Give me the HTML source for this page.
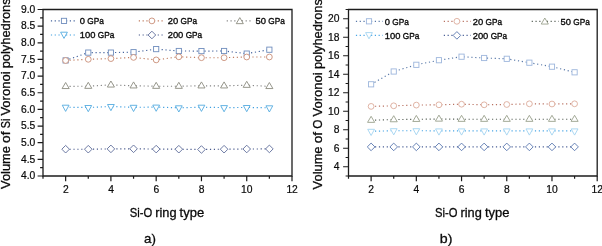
<!DOCTYPE html>
<html lang="en"><head><meta charset="utf-8"><title>Voronoi volume vs Si-O ring type</title>
<style>html,body{margin:0;padding:0;background:#fff}svg{display:block}</style></head>
<body>
<svg width="602" height="246" viewBox="0 0 602 246" font-family='&quot;Liberation Sans&quot;, Arial, sans-serif' fill="#0a0a0a">
<rect width="602" height="246" fill="#fff"/>
<polyline points="65.64,60.4 88.27,52.6 110.91,52.6 133.55,52.2 156.18,49.1 178.82,51 201.45,51.1 224.09,51 246.73,53.6 269.36,49.7" fill="none" stroke="#46659e" stroke-width="1.15" stroke-dasharray="1.2 2.7"/>
<rect x="63.04" y="57.8" width="5.2" height="5.2" fill="#fff" stroke="#6f8dbd" stroke-width="0.9"/>
<rect x="85.67" y="50" width="5.2" height="5.2" fill="#fff" stroke="#6f8dbd" stroke-width="0.9"/>
<rect x="108.31" y="50" width="5.2" height="5.2" fill="#fff" stroke="#6f8dbd" stroke-width="0.9"/>
<rect x="130.95" y="49.6" width="5.2" height="5.2" fill="#fff" stroke="#6f8dbd" stroke-width="0.9"/>
<rect x="153.58" y="46.5" width="5.2" height="5.2" fill="#fff" stroke="#6f8dbd" stroke-width="0.9"/>
<rect x="176.22" y="48.4" width="5.2" height="5.2" fill="#fff" stroke="#6f8dbd" stroke-width="0.9"/>
<rect x="198.85" y="48.5" width="5.2" height="5.2" fill="#fff" stroke="#6f8dbd" stroke-width="0.9"/>
<rect x="221.49" y="48.4" width="5.2" height="5.2" fill="#fff" stroke="#6f8dbd" stroke-width="0.9"/>
<rect x="244.13" y="51" width="5.2" height="5.2" fill="#fff" stroke="#6f8dbd" stroke-width="0.9"/>
<rect x="266.76" y="47.1" width="5.2" height="5.2" fill="#fff" stroke="#6f8dbd" stroke-width="0.9"/>
<polyline points="65.64,60.5 88.27,59.3 110.91,58.6 133.55,57.4 156.18,59.9 178.82,56.8 201.45,57.7 224.09,57.7 246.73,57 269.36,57" fill="none" stroke="#bf7b5e" stroke-width="1.15" stroke-dasharray="1.2 2.7"/>
<circle cx="65.64" cy="60.5" r="2.9" fill="#fff" stroke="#c98f78" stroke-width="0.9"/>
<circle cx="88.27" cy="59.3" r="2.9" fill="#fff" stroke="#c98f78" stroke-width="0.9"/>
<circle cx="110.91" cy="58.6" r="2.9" fill="#fff" stroke="#c98f78" stroke-width="0.9"/>
<circle cx="133.55" cy="57.4" r="2.9" fill="#fff" stroke="#c98f78" stroke-width="0.9"/>
<circle cx="156.18" cy="59.9" r="2.9" fill="#fff" stroke="#c98f78" stroke-width="0.9"/>
<circle cx="178.82" cy="56.8" r="2.9" fill="#fff" stroke="#c98f78" stroke-width="0.9"/>
<circle cx="201.45" cy="57.7" r="2.9" fill="#fff" stroke="#c98f78" stroke-width="0.9"/>
<circle cx="224.09" cy="57.7" r="2.9" fill="#fff" stroke="#c98f78" stroke-width="0.9"/>
<circle cx="246.73" cy="57" r="2.9" fill="#fff" stroke="#c98f78" stroke-width="0.9"/>
<circle cx="269.36" cy="57" r="2.9" fill="#fff" stroke="#c98f78" stroke-width="0.9"/>
<polyline points="65.64,86.4 88.27,86.2 110.91,84.9 133.55,85.8 156.18,86.2 178.82,86.2 201.45,85.8 224.09,85.8 246.73,85.2 269.36,86.4" fill="none" stroke="#858585" stroke-width="1.15" stroke-dasharray="1.2 2.7"/>
<path d="M65.64 82.5L69.19 88.55L62.09 88.55Z" fill="#fff" stroke="#8c8c80" stroke-width="0.9"/>
<path d="M88.27 82.3L91.82 88.35L84.72 88.35Z" fill="#fff" stroke="#8c8c80" stroke-width="0.9"/>
<path d="M110.91 81L114.46 87.05L107.36 87.05Z" fill="#fff" stroke="#8c8c80" stroke-width="0.9"/>
<path d="M133.55 81.9L137.1 87.95L130 87.95Z" fill="#fff" stroke="#8c8c80" stroke-width="0.9"/>
<path d="M156.18 82.3L159.73 88.35L152.63 88.35Z" fill="#fff" stroke="#8c8c80" stroke-width="0.9"/>
<path d="M178.82 82.3L182.37 88.35L175.27 88.35Z" fill="#fff" stroke="#8c8c80" stroke-width="0.9"/>
<path d="M201.45 81.9L205 87.95L197.9 87.95Z" fill="#fff" stroke="#8c8c80" stroke-width="0.9"/>
<path d="M224.09 81.9L227.64 87.95L220.54 87.95Z" fill="#fff" stroke="#8c8c80" stroke-width="0.9"/>
<path d="M246.73 81.3L250.28 87.35L243.18 87.35Z" fill="#fff" stroke="#8c8c80" stroke-width="0.9"/>
<path d="M269.36 82.5L272.91 88.55L265.81 88.55Z" fill="#fff" stroke="#8c8c80" stroke-width="0.9"/>
<polyline points="65.64,107.2 88.27,107.5 110.91,106.5 133.55,107.3 156.18,107.1 178.82,107.8 201.45,107.2 224.09,107.6 246.73,107.5 269.36,107.8" fill="none" stroke="#3f9fe0" stroke-width="1.15" stroke-dasharray="1.2 2.7"/>
<path d="M62.24 105.2L69.04 105.2L65.64 111.4Z" fill="#fff" stroke="#55abe0" stroke-width="0.9"/>
<path d="M84.87 105.5L91.67 105.5L88.27 111.7Z" fill="#fff" stroke="#55abe0" stroke-width="0.9"/>
<path d="M107.51 104.5L114.31 104.5L110.91 110.7Z" fill="#fff" stroke="#55abe0" stroke-width="0.9"/>
<path d="M130.15 105.3L136.95 105.3L133.55 111.5Z" fill="#fff" stroke="#55abe0" stroke-width="0.9"/>
<path d="M152.78 105.1L159.58 105.1L156.18 111.3Z" fill="#fff" stroke="#55abe0" stroke-width="0.9"/>
<path d="M175.42 105.8L182.22 105.8L178.82 112Z" fill="#fff" stroke="#55abe0" stroke-width="0.9"/>
<path d="M198.05 105.2L204.85 105.2L201.45 111.4Z" fill="#fff" stroke="#55abe0" stroke-width="0.9"/>
<path d="M220.69 105.6L227.49 105.6L224.09 111.8Z" fill="#fff" stroke="#55abe0" stroke-width="0.9"/>
<path d="M243.33 105.5L250.13 105.5L246.73 111.7Z" fill="#fff" stroke="#55abe0" stroke-width="0.9"/>
<path d="M265.96 105.8L272.76 105.8L269.36 112Z" fill="#fff" stroke="#55abe0" stroke-width="0.9"/>
<polyline points="65.64,149.2 88.27,149.2 110.91,148.9 133.55,148.8 156.18,149.1 178.82,149.2 201.45,149.5 224.09,149.2 246.73,149 269.36,148.9" fill="none" stroke="#4a5a8c" stroke-width="1.15" stroke-dasharray="1.2 2.7"/>
<path d="M65.64 145.4L69.44 149.2L65.64 153L61.84 149.2Z" fill="#fff" stroke="#5d6c9a" stroke-width="0.9"/>
<path d="M88.27 145.4L92.07 149.2L88.27 153L84.47 149.2Z" fill="#fff" stroke="#5d6c9a" stroke-width="0.9"/>
<path d="M110.91 145.1L114.71 148.9L110.91 152.7L107.11 148.9Z" fill="#fff" stroke="#5d6c9a" stroke-width="0.9"/>
<path d="M133.55 145L137.35 148.8L133.55 152.6L129.75 148.8Z" fill="#fff" stroke="#5d6c9a" stroke-width="0.9"/>
<path d="M156.18 145.3L159.98 149.1L156.18 152.9L152.38 149.1Z" fill="#fff" stroke="#5d6c9a" stroke-width="0.9"/>
<path d="M178.82 145.4L182.62 149.2L178.82 153L175.02 149.2Z" fill="#fff" stroke="#5d6c9a" stroke-width="0.9"/>
<path d="M201.45 145.7L205.25 149.5L201.45 153.3L197.65 149.5Z" fill="#fff" stroke="#5d6c9a" stroke-width="0.9"/>
<path d="M224.09 145.4L227.89 149.2L224.09 153L220.29 149.2Z" fill="#fff" stroke="#5d6c9a" stroke-width="0.9"/>
<path d="M246.73 145.2L250.53 149L246.73 152.8L242.93 149Z" fill="#fff" stroke="#5d6c9a" stroke-width="0.9"/>
<path d="M269.36 145.1L273.16 148.9L269.36 152.7L265.56 148.9Z" fill="#fff" stroke="#5d6c9a" stroke-width="0.9"/>
<path d="M43 9.5H292V176H43Z" fill="none" stroke="#1c1c1c" stroke-width="1.3"/>
<text x="35.3" y="179.3" font-size="10" text-anchor="end" textLength="14.31" lengthAdjust="spacingAndGlyphs" stroke="#0a0a0a" stroke-width="0.2">4.0</text>
<text x="35.3" y="162.65" font-size="10" text-anchor="end" textLength="14.31" lengthAdjust="spacingAndGlyphs" stroke="#0a0a0a" stroke-width="0.2">4.5</text>
<text x="35.3" y="146" font-size="10" text-anchor="end" textLength="14.31" lengthAdjust="spacingAndGlyphs" stroke="#0a0a0a" stroke-width="0.2">5.0</text>
<text x="35.3" y="129.35" font-size="10" text-anchor="end" textLength="14.31" lengthAdjust="spacingAndGlyphs" stroke="#0a0a0a" stroke-width="0.2">5.5</text>
<text x="35.3" y="112.7" font-size="10" text-anchor="end" textLength="14.31" lengthAdjust="spacingAndGlyphs" stroke="#0a0a0a" stroke-width="0.2">6.0</text>
<text x="35.3" y="96.05" font-size="10" text-anchor="end" textLength="14.31" lengthAdjust="spacingAndGlyphs" stroke="#0a0a0a" stroke-width="0.2">6.5</text>
<text x="35.3" y="79.4" font-size="10" text-anchor="end" textLength="14.31" lengthAdjust="spacingAndGlyphs" stroke="#0a0a0a" stroke-width="0.2">7.0</text>
<text x="35.3" y="62.75" font-size="10" text-anchor="end" textLength="14.31" lengthAdjust="spacingAndGlyphs" stroke="#0a0a0a" stroke-width="0.2">7.5</text>
<text x="35.3" y="46.1" font-size="10" text-anchor="end" textLength="14.31" lengthAdjust="spacingAndGlyphs" stroke="#0a0a0a" stroke-width="0.2">8.0</text>
<text x="35.3" y="29.45" font-size="10" text-anchor="end" textLength="14.31" lengthAdjust="spacingAndGlyphs" stroke="#0a0a0a" stroke-width="0.2">8.5</text>
<text x="35.3" y="12.8" font-size="10" text-anchor="end" textLength="14.31" lengthAdjust="spacingAndGlyphs" stroke="#0a0a0a" stroke-width="0.2">9.0</text>
<text x="65.74" y="193" font-size="10" text-anchor="middle" textLength="5.73" lengthAdjust="spacingAndGlyphs" stroke="#0a0a0a" stroke-width="0.2">2</text>
<text x="111.01" y="193" font-size="10" text-anchor="middle" textLength="5.73" lengthAdjust="spacingAndGlyphs" stroke="#0a0a0a" stroke-width="0.2">4</text>
<text x="156.28" y="193" font-size="10" text-anchor="middle" textLength="5.73" lengthAdjust="spacingAndGlyphs" stroke="#0a0a0a" stroke-width="0.2">6</text>
<text x="201.55" y="193" font-size="10" text-anchor="middle" textLength="5.73" lengthAdjust="spacingAndGlyphs" stroke="#0a0a0a" stroke-width="0.2">8</text>
<text x="246.83" y="193" font-size="10" text-anchor="middle" textLength="11.45" lengthAdjust="spacingAndGlyphs" stroke="#0a0a0a" stroke-width="0.2">10</text>
<text x="292.1" y="193" font-size="10" text-anchor="middle" textLength="11.45" lengthAdjust="spacingAndGlyphs" stroke="#0a0a0a" stroke-width="0.2">12</text>
<path d="M37.6 176H43M40.1 167.68H43M37.6 159.35H43M40.1 151.03H43M37.6 142.7H43M40.1 134.38H43M37.6 126.05H43M40.1 117.72H43M37.6 109.4H43M40.1 101.08H43M37.6 92.75H43M40.1 84.42H43M37.6 76.1H43M40.1 67.78H43M37.6 59.45H43M40.1 51.12H43M37.6 42.8H43M40.1 34.47H43M37.6 26.15H43M40.1 17.82H43M37.6 9.5H43M43 176V178.8M65.64 176V181.3M88.27 176V178.8M110.91 176V181.3M133.55 176V178.8M156.18 176V181.3M178.82 176V178.8M201.45 176V181.3M224.09 176V178.8M246.73 176V181.3M269.36 176V178.8M292 176V181.3" fill="none" stroke="#1c1c1c" stroke-width="1.2"/>
<path d="M50.9 20.9H75.3" fill="none" stroke="#46659e" stroke-width="1.15" stroke-dasharray="1.2 2.58"/>
<rect x="61.4" y="18.3" width="5.2" height="5.2" fill="#fff" stroke="#6f8dbd" stroke-width="0.9"/>
<text y="24.3" font-size="9.2" stroke="#0a0a0a" stroke-width="0.35"><tspan x="79.8" textLength="5.22" lengthAdjust="spacingAndGlyphs">0</tspan> <tspan x="87.35" textLength="16.53" lengthAdjust="spacingAndGlyphs">GPa</tspan></text>
<path d="M138.8 20.9H163.2" fill="none" stroke="#bf7b5e" stroke-width="1.15" stroke-dasharray="1.2 2.58"/>
<circle cx="151.9" cy="20.9" r="2.9" fill="#fff" stroke="#c98f78" stroke-width="0.9"/>
<text y="24.3" font-size="9.2" stroke="#0a0a0a" stroke-width="0.35"><tspan x="167.7" textLength="10.44" lengthAdjust="spacingAndGlyphs">20</tspan> <tspan x="180.47" textLength="16.53" lengthAdjust="spacingAndGlyphs">GPa</tspan></text>
<path d="M226.7 20.9H251.1" fill="none" stroke="#858585" stroke-width="1.15" stroke-dasharray="1.2 2.58"/>
<path d="M239.8 17.6L243.35 23.65L236.25 23.65Z" fill="#fff" stroke="#8c8c80" stroke-width="0.9"/>
<text y="24.3" font-size="9.2" stroke="#0a0a0a" stroke-width="0.35"><tspan x="255.6" textLength="10.44" lengthAdjust="spacingAndGlyphs">50</tspan> <tspan x="268.37" textLength="16.53" lengthAdjust="spacingAndGlyphs">GPa</tspan></text>
<path d="M50.9 35H75.3" fill="none" stroke="#3f9fe0" stroke-width="1.15" stroke-dasharray="1.2 2.58"/>
<path d="M60.6 32.2L67.4 32.2L64 38.4Z" fill="#fff" stroke="#55abe0" stroke-width="0.9"/>
<text y="38.4" font-size="9.2" stroke="#0a0a0a" stroke-width="0.35"><tspan x="79.8" textLength="15.66" lengthAdjust="spacingAndGlyphs">100</tspan> <tspan x="97.79" textLength="16.53" lengthAdjust="spacingAndGlyphs">GPa</tspan></text>
<path d="M138.8 35H163.2" fill="none" stroke="#4a5a8c" stroke-width="1.15" stroke-dasharray="1.2 2.58"/>
<path d="M151.9 31.2L155.7 35L151.9 38.8L148.1 35Z" fill="#fff" stroke="#5d6c9a" stroke-width="0.9"/>
<text y="38.4" font-size="9.2" stroke="#0a0a0a" stroke-width="0.35"><tspan x="167.7" textLength="15.66" lengthAdjust="spacingAndGlyphs">200</tspan> <tspan x="185.69" textLength="16.53" lengthAdjust="spacingAndGlyphs">GPa</tspan></text>
<g transform="translate(10.3 188.95) rotate(-90)"><text y="0" font-size="12.9" stroke="#0a0a0a" stroke-width="0.3"><tspan x="0" textLength="42.93" lengthAdjust="spacingAndGlyphs">Volume</tspan> <tspan x="46.06" textLength="11.51" lengthAdjust="spacingAndGlyphs">of</tspan> <tspan x="60.7" textLength="9.53" lengthAdjust="spacingAndGlyphs">Si</tspan> <tspan x="73.35" textLength="44.18" lengthAdjust="spacingAndGlyphs">Voronoi</tspan> <tspan x="120.66" textLength="69.97" lengthAdjust="spacingAndGlyphs">polyhedrons</tspan></text></g>
<text y="216.6" font-size="12.9" stroke="#0a0a0a" stroke-width="0.3"><tspan x="129.7" textLength="22.46" lengthAdjust="spacingAndGlyphs">Si-O</tspan> <tspan x="155.22" textLength="21.33" lengthAdjust="spacingAndGlyphs">ring</tspan> <tspan x="179.61" textLength="24.53" lengthAdjust="spacingAndGlyphs">type</tspan></text>
<text y="243.3" font-size="13.5" stroke="#0a0a0a" stroke-width="0.3"><tspan x="144" textLength="11.89" lengthAdjust="spacingAndGlyphs">a)</tspan></text>
<polyline points="371.11,84.3 393.72,71.5 416.33,64.8 438.94,60.2 461.55,56.7 484.15,58 506.76,58.8 529.37,62.7 551.98,66.7 574.59,72.3" fill="none" stroke="#5878a8" stroke-width="1.15" stroke-dasharray="1.2 2.7"/>
<rect x="368.51" y="81.7" width="5.2" height="5.2" fill="#fff" stroke="#9db6dc" stroke-width="0.9"/>
<rect x="391.12" y="68.9" width="5.2" height="5.2" fill="#fff" stroke="#9db6dc" stroke-width="0.9"/>
<rect x="413.73" y="62.2" width="5.2" height="5.2" fill="#fff" stroke="#9db6dc" stroke-width="0.9"/>
<rect x="436.34" y="57.6" width="5.2" height="5.2" fill="#fff" stroke="#9db6dc" stroke-width="0.9"/>
<rect x="458.95" y="54.1" width="5.2" height="5.2" fill="#fff" stroke="#9db6dc" stroke-width="0.9"/>
<rect x="481.55" y="55.4" width="5.2" height="5.2" fill="#fff" stroke="#9db6dc" stroke-width="0.9"/>
<rect x="504.16" y="56.2" width="5.2" height="5.2" fill="#fff" stroke="#9db6dc" stroke-width="0.9"/>
<rect x="526.77" y="60.1" width="5.2" height="5.2" fill="#fff" stroke="#9db6dc" stroke-width="0.9"/>
<rect x="549.38" y="64.1" width="5.2" height="5.2" fill="#fff" stroke="#9db6dc" stroke-width="0.9"/>
<rect x="571.99" y="69.7" width="5.2" height="5.2" fill="#fff" stroke="#9db6dc" stroke-width="0.9"/>
<polyline points="371.11,106.4 393.72,105.8 416.33,105.1 438.94,104.8 461.55,104.2 484.15,104.8 506.76,104.5 529.37,103.8 551.98,104 574.59,103.8" fill="none" stroke="#b87060" stroke-width="1.15" stroke-dasharray="1.2 2.7"/>
<circle cx="371.11" cy="106.4" r="2.9" fill="#fff" stroke="#dcab9b" stroke-width="0.9"/>
<circle cx="393.72" cy="105.8" r="2.9" fill="#fff" stroke="#dcab9b" stroke-width="0.9"/>
<circle cx="416.33" cy="105.1" r="2.9" fill="#fff" stroke="#dcab9b" stroke-width="0.9"/>
<circle cx="438.94" cy="104.8" r="2.9" fill="#fff" stroke="#dcab9b" stroke-width="0.9"/>
<circle cx="461.55" cy="104.2" r="2.9" fill="#fff" stroke="#dcab9b" stroke-width="0.9"/>
<circle cx="484.15" cy="104.8" r="2.9" fill="#fff" stroke="#dcab9b" stroke-width="0.9"/>
<circle cx="506.76" cy="104.5" r="2.9" fill="#fff" stroke="#dcab9b" stroke-width="0.9"/>
<circle cx="529.37" cy="103.8" r="2.9" fill="#fff" stroke="#dcab9b" stroke-width="0.9"/>
<circle cx="551.98" cy="104" r="2.9" fill="#fff" stroke="#dcab9b" stroke-width="0.9"/>
<circle cx="574.59" cy="103.8" r="2.9" fill="#fff" stroke="#dcab9b" stroke-width="0.9"/>
<polyline points="371.11,120.2 393.72,119.6 416.33,119.3 438.94,119 461.55,119.2 484.15,119.2 506.76,119.2 529.37,119.2 551.98,119.2 574.59,119.2" fill="none" stroke="#5a635a" stroke-width="1.15" stroke-dasharray="1.2 2.7"/>
<path d="M371.11 116.3L374.66 122.35L367.56 122.35Z" fill="#fff" stroke="#9aa08c" stroke-width="0.9"/>
<path d="M393.72 115.7L397.27 121.75L390.17 121.75Z" fill="#fff" stroke="#9aa08c" stroke-width="0.9"/>
<path d="M416.33 115.4L419.88 121.45L412.78 121.45Z" fill="#fff" stroke="#9aa08c" stroke-width="0.9"/>
<path d="M438.94 115.1L442.49 121.15L435.39 121.15Z" fill="#fff" stroke="#9aa08c" stroke-width="0.9"/>
<path d="M461.55 115.3L465.1 121.35L458 121.35Z" fill="#fff" stroke="#9aa08c" stroke-width="0.9"/>
<path d="M484.15 115.3L487.7 121.35L480.6 121.35Z" fill="#fff" stroke="#9aa08c" stroke-width="0.9"/>
<path d="M506.76 115.3L510.31 121.35L503.21 121.35Z" fill="#fff" stroke="#9aa08c" stroke-width="0.9"/>
<path d="M529.37 115.3L532.92 121.35L525.82 121.35Z" fill="#fff" stroke="#9aa08c" stroke-width="0.9"/>
<path d="M551.98 115.3L555.53 121.35L548.43 121.35Z" fill="#fff" stroke="#9aa08c" stroke-width="0.9"/>
<path d="M574.59 115.3L578.14 121.35L571.04 121.35Z" fill="#fff" stroke="#9aa08c" stroke-width="0.9"/>
<polyline points="371.11,131.3 393.72,130.7 416.33,130.7 438.94,130.9 461.55,130.9 484.15,130.9 506.76,130.9 529.37,130.9 551.98,130.9 574.59,130.9" fill="none" stroke="#48a6e6" stroke-width="1.15" stroke-dasharray="1.2 2.7"/>
<path d="M367.71 129.3L374.51 129.3L371.11 135.5Z" fill="#fff" stroke="#a3d4f0" stroke-width="0.9"/>
<path d="M390.32 128.7L397.12 128.7L393.72 134.9Z" fill="#fff" stroke="#a3d4f0" stroke-width="0.9"/>
<path d="M412.93 128.7L419.73 128.7L416.33 134.9Z" fill="#fff" stroke="#a3d4f0" stroke-width="0.9"/>
<path d="M435.54 128.9L442.34 128.9L438.94 135.1Z" fill="#fff" stroke="#a3d4f0" stroke-width="0.9"/>
<path d="M458.15 128.9L464.95 128.9L461.55 135.1Z" fill="#fff" stroke="#a3d4f0" stroke-width="0.9"/>
<path d="M480.75 128.9L487.55 128.9L484.15 135.1Z" fill="#fff" stroke="#a3d4f0" stroke-width="0.9"/>
<path d="M503.36 128.9L510.16 128.9L506.76 135.1Z" fill="#fff" stroke="#a3d4f0" stroke-width="0.9"/>
<path d="M525.97 128.9L532.77 128.9L529.37 135.1Z" fill="#fff" stroke="#a3d4f0" stroke-width="0.9"/>
<path d="M548.58 128.9L555.38 128.9L551.98 135.1Z" fill="#fff" stroke="#a3d4f0" stroke-width="0.9"/>
<path d="M571.19 128.9L577.99 128.9L574.59 135.1Z" fill="#fff" stroke="#a3d4f0" stroke-width="0.9"/>
<polyline points="371.11,146.9 393.72,146.9 416.33,146.9 438.94,146.9 461.55,146.9 484.15,146.9 506.76,146.9 529.37,146.9 551.98,146.9 574.59,146.9" fill="none" stroke="#4a5f96" stroke-width="1.15" stroke-dasharray="1.2 2.7"/>
<path d="M371.11 143.1L374.91 146.9L371.11 150.7L367.31 146.9Z" fill="#fff" stroke="#5775ae" stroke-width="0.9"/>
<path d="M393.72 143.1L397.52 146.9L393.72 150.7L389.92 146.9Z" fill="#fff" stroke="#5775ae" stroke-width="0.9"/>
<path d="M416.33 143.1L420.13 146.9L416.33 150.7L412.53 146.9Z" fill="#fff" stroke="#5775ae" stroke-width="0.9"/>
<path d="M438.94 143.1L442.74 146.9L438.94 150.7L435.14 146.9Z" fill="#fff" stroke="#5775ae" stroke-width="0.9"/>
<path d="M461.55 143.1L465.35 146.9L461.55 150.7L457.75 146.9Z" fill="#fff" stroke="#5775ae" stroke-width="0.9"/>
<path d="M484.15 143.1L487.95 146.9L484.15 150.7L480.35 146.9Z" fill="#fff" stroke="#5775ae" stroke-width="0.9"/>
<path d="M506.76 143.1L510.56 146.9L506.76 150.7L502.96 146.9Z" fill="#fff" stroke="#5775ae" stroke-width="0.9"/>
<path d="M529.37 143.1L533.17 146.9L529.37 150.7L525.57 146.9Z" fill="#fff" stroke="#5775ae" stroke-width="0.9"/>
<path d="M551.98 143.1L555.78 146.9L551.98 150.7L548.18 146.9Z" fill="#fff" stroke="#5775ae" stroke-width="0.9"/>
<path d="M574.59 143.1L578.39 146.9L574.59 150.7L570.79 146.9Z" fill="#fff" stroke="#5775ae" stroke-width="0.9"/>
<path d="M348.5 9.5H597.2V176H348.5Z" fill="none" stroke="#1c1c1c" stroke-width="1.3"/>
<text x="339.4" y="170.05" font-size="10" text-anchor="end" textLength="5.73" lengthAdjust="spacingAndGlyphs" stroke="#0a0a0a" stroke-width="0.2">4</text>
<text x="339.4" y="151.55" font-size="10" text-anchor="end" textLength="5.73" lengthAdjust="spacingAndGlyphs" stroke="#0a0a0a" stroke-width="0.2">6</text>
<text x="339.4" y="133.05" font-size="10" text-anchor="end" textLength="5.73" lengthAdjust="spacingAndGlyphs" stroke="#0a0a0a" stroke-width="0.2">8</text>
<text x="339.4" y="114.55" font-size="10" text-anchor="end" textLength="11.45" lengthAdjust="spacingAndGlyphs" stroke="#0a0a0a" stroke-width="0.2">10</text>
<text x="339.4" y="96.05" font-size="10" text-anchor="end" textLength="11.45" lengthAdjust="spacingAndGlyphs" stroke="#0a0a0a" stroke-width="0.2">12</text>
<text x="339.4" y="77.55" font-size="10" text-anchor="end" textLength="11.45" lengthAdjust="spacingAndGlyphs" stroke="#0a0a0a" stroke-width="0.2">14</text>
<text x="339.4" y="59.05" font-size="10" text-anchor="end" textLength="11.45" lengthAdjust="spacingAndGlyphs" stroke="#0a0a0a" stroke-width="0.2">16</text>
<text x="339.4" y="40.55" font-size="10" text-anchor="end" textLength="11.45" lengthAdjust="spacingAndGlyphs" stroke="#0a0a0a" stroke-width="0.2">18</text>
<text x="339.4" y="22.05" font-size="10" text-anchor="end" textLength="11.45" lengthAdjust="spacingAndGlyphs" stroke="#0a0a0a" stroke-width="0.2">20</text>
<text x="371.21" y="193" font-size="10" text-anchor="middle" textLength="5.73" lengthAdjust="spacingAndGlyphs" stroke="#0a0a0a" stroke-width="0.2">2</text>
<text x="416.43" y="193" font-size="10" text-anchor="middle" textLength="5.73" lengthAdjust="spacingAndGlyphs" stroke="#0a0a0a" stroke-width="0.2">4</text>
<text x="461.65" y="193" font-size="10" text-anchor="middle" textLength="5.73" lengthAdjust="spacingAndGlyphs" stroke="#0a0a0a" stroke-width="0.2">6</text>
<text x="506.86" y="193" font-size="10" text-anchor="middle" textLength="5.73" lengthAdjust="spacingAndGlyphs" stroke="#0a0a0a" stroke-width="0.2">8</text>
<text x="552.08" y="193" font-size="10" text-anchor="middle" textLength="11.45" lengthAdjust="spacingAndGlyphs" stroke="#0a0a0a" stroke-width="0.2">10</text>
<text x="597.3" y="193" font-size="10" text-anchor="middle" textLength="11.45" lengthAdjust="spacingAndGlyphs" stroke="#0a0a0a" stroke-width="0.2">12</text>
<path d="M345.6 176H348.5M343.1 166.75H348.5M345.6 157.5H348.5M343.1 148.25H348.5M345.6 139H348.5M343.1 129.75H348.5M345.6 120.5H348.5M343.1 111.25H348.5M345.6 102H348.5M343.1 92.75H348.5M345.6 83.5H348.5M343.1 74.25H348.5M345.6 65H348.5M343.1 55.75H348.5M345.6 46.5H348.5M343.1 37.25H348.5M345.6 28H348.5M343.1 18.75H348.5M345.6 9.5H348.5M348.5 176V178.8M371.11 176V181.3M393.72 176V178.8M416.33 176V181.3M438.94 176V178.8M461.55 176V181.3M484.15 176V178.8M506.76 176V181.3M529.37 176V178.8M551.98 176V181.3M574.59 176V178.8M597.2 176V181.3" fill="none" stroke="#1c1c1c" stroke-width="1.2"/>
<path d="M355.9 21.3H382.9" fill="none" stroke="#5878a8" stroke-width="1.15" stroke-dasharray="1.2 2.58"/>
<rect x="366.4" y="18.7" width="5.2" height="5.2" fill="#fff" stroke="#9db6dc" stroke-width="0.9"/>
<text y="24.7" font-size="9.2" stroke="#0a0a0a" stroke-width="0.35"><tspan x="384.8" textLength="5.22" lengthAdjust="spacingAndGlyphs">0</tspan> <tspan x="392.35" textLength="16.53" lengthAdjust="spacingAndGlyphs">GPa</tspan></text>
<path d="M443.8 21.3H470.8" fill="none" stroke="#b87060" stroke-width="1.15" stroke-dasharray="1.2 2.58"/>
<circle cx="456.9" cy="21.3" r="2.9" fill="#fff" stroke="#dcab9b" stroke-width="0.9"/>
<text y="24.7" font-size="9.2" stroke="#0a0a0a" stroke-width="0.35"><tspan x="472.7" textLength="10.44" lengthAdjust="spacingAndGlyphs">20</tspan> <tspan x="485.47" textLength="16.53" lengthAdjust="spacingAndGlyphs">GPa</tspan></text>
<path d="M531.7 21.3H558.7" fill="none" stroke="#5a635a" stroke-width="1.15" stroke-dasharray="1.2 2.58"/>
<path d="M544.8 18L548.35 24.05L541.25 24.05Z" fill="#fff" stroke="#9aa08c" stroke-width="0.9"/>
<text y="24.7" font-size="9.2" stroke="#0a0a0a" stroke-width="0.35"><tspan x="560.6" textLength="10.44" lengthAdjust="spacingAndGlyphs">50</tspan> <tspan x="573.37" textLength="16.53" lengthAdjust="spacingAndGlyphs">GPa</tspan></text>
<path d="M355.9 35.4H382.9" fill="none" stroke="#48a6e6" stroke-width="1.15" stroke-dasharray="1.2 2.58"/>
<path d="M365.6 32.6L372.4 32.6L369 38.8Z" fill="#fff" stroke="#a3d4f0" stroke-width="0.9"/>
<text y="38.8" font-size="9.2" stroke="#0a0a0a" stroke-width="0.35"><tspan x="384.8" textLength="15.66" lengthAdjust="spacingAndGlyphs">100</tspan> <tspan x="402.79" textLength="16.53" lengthAdjust="spacingAndGlyphs">GPa</tspan></text>
<path d="M443.8 35.4H470.8" fill="none" stroke="#4a5f96" stroke-width="1.15" stroke-dasharray="1.2 2.58"/>
<path d="M456.9 31.6L460.7 35.4L456.9 39.2L453.1 35.4Z" fill="#fff" stroke="#5775ae" stroke-width="0.9"/>
<text y="38.8" font-size="9.2" stroke="#0a0a0a" stroke-width="0.35"><tspan x="472.7" textLength="15.66" lengthAdjust="spacingAndGlyphs">200</tspan> <tspan x="490.69" textLength="16.53" lengthAdjust="spacingAndGlyphs">GPa</tspan></text>
<g transform="translate(321.8 189.4) rotate(-90)"><text y="0" font-size="12.9" stroke="#0a0a0a" stroke-width="0.3"><tspan x="0" textLength="42.93" lengthAdjust="spacingAndGlyphs">Volume</tspan> <tspan x="46.06" textLength="11.51" lengthAdjust="spacingAndGlyphs">of</tspan> <tspan x="60.7" textLength="9.16" lengthAdjust="spacingAndGlyphs">O</tspan> <tspan x="72.98" textLength="44.18" lengthAdjust="spacingAndGlyphs">Voronoi</tspan> <tspan x="120.29" textLength="69.97" lengthAdjust="spacingAndGlyphs">polyhedrons</tspan></text></g>
<text y="216.6" font-size="12.9" stroke="#0a0a0a" stroke-width="0.3"><tspan x="435" textLength="22.46" lengthAdjust="spacingAndGlyphs">Si-O</tspan> <tspan x="460.52" textLength="21.33" lengthAdjust="spacingAndGlyphs">ring</tspan> <tspan x="484.91" textLength="24.53" lengthAdjust="spacingAndGlyphs">type</tspan></text>
<text y="243.3" font-size="13.5" stroke="#0a0a0a" stroke-width="0.3"><tspan x="439.8" textLength="12.59" lengthAdjust="spacingAndGlyphs">b)</tspan></text>
</svg>
</body></html>
